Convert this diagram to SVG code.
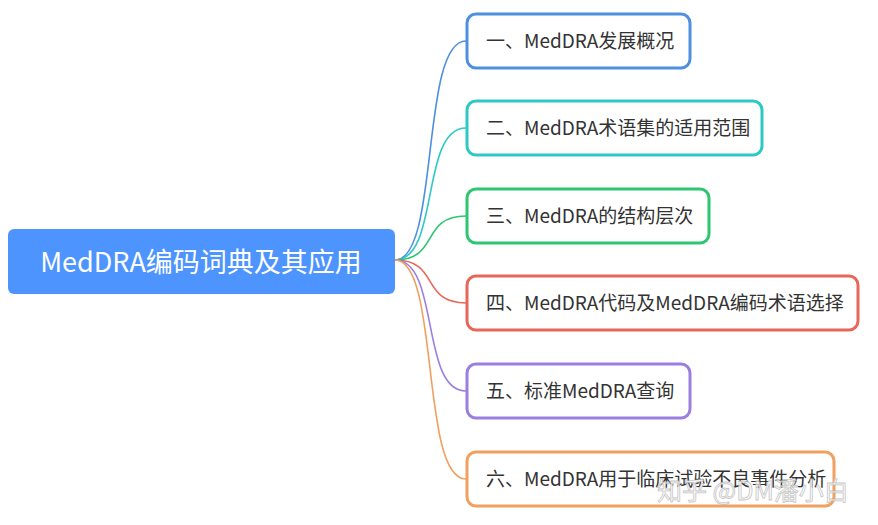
<svg xmlns="http://www.w3.org/2000/svg" width="878" height="525" viewBox="0 0 878 525">
<style>
.box{fill:#fff;stroke-width:3}
.t{font-family:"Noto Sans CJK SC","Noto Sans",sans-serif;font-size:19px;fill:#333}
.c{fill:none;stroke-width:1.6}
</style>
<rect width="878" height="525" fill="#fff"/>
<g id="connectors">
<path class="c" stroke="#4f8fe0" d="M395,260 C440,260 420,41 466,41"/>
<path class="c" stroke="#2ec9c4" d="M395,260 C440,260 420,128 466,128"/>
<path class="c" stroke="#2dc672" d="M395,260 C440,260 420,216 466,216"/>
<path class="c" stroke="#e8675a" d="M395,260 C440,260 420,303 466,303"/>
<path class="c" stroke="#9b7fe0" d="M395,260 C440,260 420,391 466,391"/>
<path class="c" stroke="#f0a060" d="M395,260 C440,260 420,479 466,479"/>
</g>
<g id="root"><rect x="8" y="229" width="387" height="65" rx="6" fill="#4d94ff"/>
<text x="201" y="272" text-anchor="middle" font-family="'Noto Sans CJK SC','Noto Sans',sans-serif" font-size="27" fill="#fff">MedDRA编码词典及其应用</text></g>
<g id="n1"><rect class="box" x="467" y="14" width="223" height="54" rx="9" stroke="#4f8fe0"/><text class="t" x="486" y="48">一、MedDRA发展概况</text></g>
<g id="n2"><rect class="box" x="467" y="101" width="295" height="54" rx="9" stroke="#2ec9c4"/><text class="t" x="486" y="135">二、MedDRA术语集的适用范围</text></g>
<g id="n3"><rect class="box" x="467" y="189" width="242" height="54" rx="9" stroke="#2dc672"/><text class="t" x="486" y="223">三、MedDRA的结构层次</text></g>
<g id="n4"><rect class="box" x="467" y="276" width="391" height="54" rx="9" stroke="#e8675a"/><text class="t" x="486" y="310">四、MedDRA代码及MedDRA编码术语选择</text></g>
<g id="n5"><rect class="box" x="467" y="364" width="223" height="54" rx="9" stroke="#9b7fe0"/><text class="t" x="486" y="398">五、标准MedDRA查询</text></g>
<g id="n6"><rect class="box" x="467" y="452" width="367" height="54" rx="9" stroke="#f0a060"/><text class="t" x="486" y="486">六、MedDRA用于临床试验不良事件分析</text></g>
<text x="657" y="500" font-family="'Noto Sans CJK SC',sans-serif" font-size="25" fill="#fff" stroke="#bbb" stroke-width="0.8" opacity="0.85">知乎 @DM潘小白</text>
</svg>
